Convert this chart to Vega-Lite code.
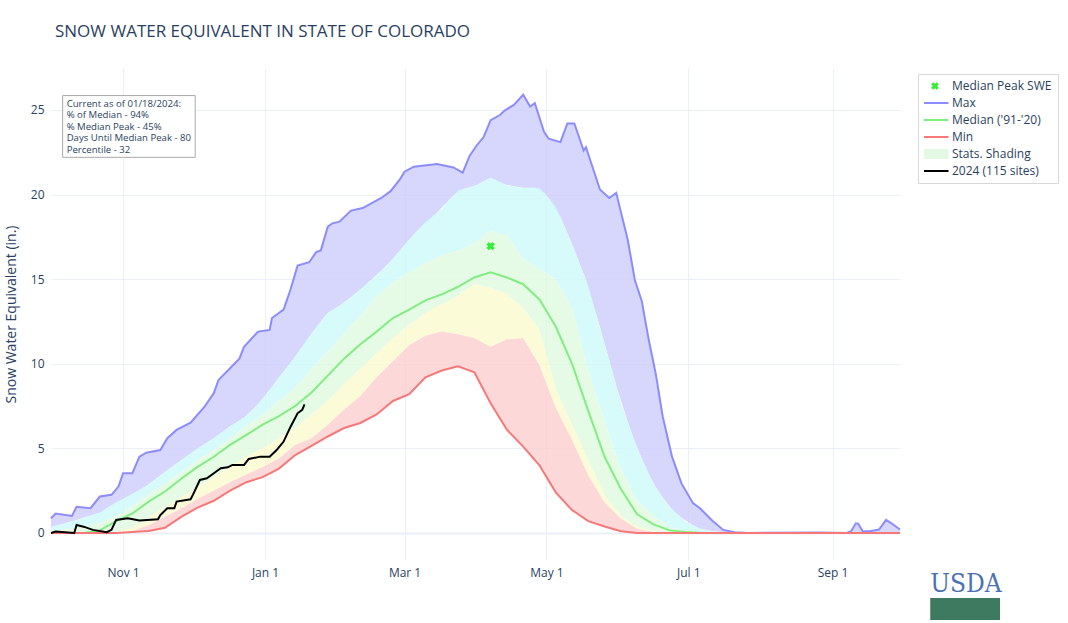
{
  "$schema": "https://vega.github.io/schema/vega-lite/v6.json",
  "autosize": {"type": "none"},
  "width": 849,
  "height": 492,
  "padding": {"left": 51, "top": 68, "right": 168, "bottom": 63},
  "background": "white",
  "title": {"text": "SNOW WATER EQUIVALENT IN STATE OF COLORADO", "anchor": "start", "frame": "group", "offset": 14, "baseline": "alphabetic", "fontSize": 17, "fontWeight": "normal", "color": "#2a3f5f", "font": "Open Sans", "dx": 4},
  "config": {
    "font": "Open Sans",
    "view": {"stroke": null},
    "axis": {"labelFont": "Open Sans", "labelFontSize": 12, "labelColor": "#2a3f5f", "domain": false, "ticks": false, "gridColor": "#ebf0f8", "titleFont": "Open Sans", "titleFontSize": 14, "titleColor": "#2a3f5f", "titleFontWeight": "normal"},
    "legend": {"symbolSize": 729}
  },
  "datasets": {
    "maxs": [
      {"date": "2023-10-01", "swe": 0.87, "p90": 0.35}, {"date": "2023-10-03", "swe": 1.15, "p90": 0.42}, {"date": "2023-10-10", "swe": 1.0, "p90": 0.69}, {"date": "2023-10-12", "swe": 1.55, "p90": 0.77},
      {"date": "2023-10-18", "swe": 1.46, "p90": 1.03}, {"date": "2023-10-22", "swe": 2.15, "p90": 1.2}, {"date": "2023-10-27", "swe": 2.25, "p90": 1.63}, {"date": "2023-10-30", "swe": 2.74, "p90": 1.87},
      {"date": "2023-11-01", "swe": 3.53, "p90": 2.01}, {"date": "2023-11-05", "swe": 3.53, "p90": 2.3}, {"date": "2023-11-08", "swe": 4.51, "p90": 2.54}, {"date": "2023-11-11", "swe": 4.74, "p90": 2.77},
      {"date": "2023-11-17", "swe": 4.9, "p90": 3.39}, {"date": "2023-11-20", "swe": 5.6, "p90": 3.7}, {"date": "2023-11-24", "swe": 6.09, "p90": 4.1}, {"date": "2023-11-30", "swe": 6.52, "p90": 4.7},
      {"date": "2023-12-06", "swe": 7.46, "p90": 5.26}, {"date": "2023-12-10", "swe": 8.26, "p90": 5.6}, {"date": "2023-12-12", "swe": 9.04, "p90": 5.8}, {"date": "2023-12-17", "swe": 9.73, "p90": 6.3},
      {"date": "2023-12-21", "swe": 10.3, "p90": 6.64}, {"date": "2023-12-23", "swe": 11.0, "p90": 6.81}, {"date": "2023-12-29", "swe": 11.9, "p90": 7.61}, {"date": "2024-01-03", "swe": 12.0, "p90": 8.46},
      {"date": "2024-01-04", "swe": 12.7, "p90": 8.64}, {"date": "2024-01-09", "swe": 13.2, "p90": 9.54}, {"date": "2024-01-12", "swe": 14.4, "p90": 10.06}, {"date": "2024-01-15", "swe": 15.8, "p90": 10.6},
      {"date": "2024-01-20", "swe": 16.0, "p90": 11.6}, {"date": "2024-01-23", "swe": 16.6, "p90": 12.14}, {"date": "2024-01-25", "swe": 16.7, "p90": 12.49}, {"date": "2024-01-28", "swe": 18.1, "p90": 13.0},
      {"date": "2024-01-30", "swe": 18.3, "p90": 13.17}, {"date": "2024-02-02", "swe": 18.4, "p90": 13.43}, {"date": "2024-02-07", "swe": 19.05, "p90": 13.94}, {"date": "2024-02-12", "swe": 19.2, "p90": 14.51},
      {"date": "2024-02-20", "swe": 19.8, "p90": 15.49}, {"date": "2024-02-24", "swe": 20.2, "p90": 16.06}, {"date": "2024-02-28", "swe": 20.9, "p90": 16.69}, {"date": "2024-03-01", "swe": 21.35, "p90": 17.02},
      {"date": "2024-03-05", "swe": 21.65, "p90": 17.65}, {"date": "2024-03-15", "swe": 21.8, "p90": 18.94}, {"date": "2024-03-22", "swe": 21.6, "p90": 19.94}, {"date": "2024-03-26", "swe": 21.3, "p90": 20.33},
      {"date": "2024-03-29", "swe": 22.3, "p90": 20.43}, {"date": "2024-04-01", "swe": 22.9, "p90": 20.57}, {"date": "2024-04-04", "swe": 23.4, "p90": 20.79}, {"date": "2024-04-07", "swe": 24.4, "p90": 21.0},
      {"date": "2024-04-11", "swe": 24.7, "p90": 20.74}, {"date": "2024-04-13", "swe": 24.96, "p90": 20.61}, {"date": "2024-04-17", "swe": 25.3, "p90": 20.49}, {"date": "2024-04-21", "swe": 25.9, "p90": 20.4},
      {"date": "2024-04-24", "swe": 25.2, "p90": 20.4}, {"date": "2024-04-26", "swe": 25.4, "p90": 20.4}, {"date": "2024-04-30", "swe": 23.7, "p90": 20.09}, {"date": "2024-05-02", "swe": 23.3, "p90": 19.77},
      {"date": "2024-05-07", "swe": 23.1, "p90": 18.67}, {"date": "2024-05-10", "swe": 24.2, "p90": 17.73}, {"date": "2024-05-13", "swe": 24.2, "p90": 16.74}, {"date": "2024-05-17", "swe": 22.6, "p90": 15.31},
      {"date": "2024-05-18", "swe": 22.8, "p90": 14.96}, {"date": "2024-05-24", "swe": 20.3, "p90": 12.17}, {"date": "2024-05-28", "swe": 19.8, "p90": 10.2}, {"date": "2024-05-31", "swe": 20.1, "p90": 8.7},
      {"date": "2024-06-05", "swe": 17.3, "p90": 6.54}, {"date": "2024-06-08", "swe": 14.95, "p90": 5.39}, {"date": "2024-06-11", "swe": 13.7, "p90": 4.4}, {"date": "2024-06-14", "swe": 11.4, "p90": 3.5},
      {"date": "2024-06-17", "swe": 9.4, "p90": 2.7}, {"date": "2024-06-20", "swe": 6.87, "p90": 2.1}, {"date": "2024-06-24", "swe": 4.51, "p90": 1.38}, {"date": "2024-06-28", "swe": 2.94, "p90": 0.89},
      {"date": "2024-07-03", "swe": 1.76, "p90": 0.46}, {"date": "2024-07-06", "swe": 1.46, "p90": 0.26}, {"date": "2024-07-11", "swe": 0.77, "p90": 0.11}, {"date": "2024-07-16", "swe": 0.18, "p90": 0.04},
      {"date": "2024-07-21", "swe": 0.04, "p90": 0}, {"date": "2024-07-27", "swe": 0, "p90": 0}, {"date": "2024-08-26", "swe": 0.03, "p90": 0}, {"date": "2024-09-07", "swe": 0, "p90": 0},
      {"date": "2024-09-09", "swe": 0.1, "p90": 0}, {"date": "2024-09-11", "swe": 0.57, "p90": 0}, {"date": "2024-09-12", "swe": 0.55, "p90": 0}, {"date": "2024-09-14", "swe": 0.1, "p90": 0},
      {"date": "2024-09-17", "swe": 0.1, "p90": 0}, {"date": "2024-09-21", "swe": 0.2, "p90": 0}, {"date": "2024-09-24", "swe": 0.77, "p90": 0}, {"date": "2024-09-26", "swe": 0.6, "p90": 0},
      {"date": "2024-09-30", "swe": 0.2, "p90": 0}
    ],
    "bands": [
      {"date": "2023-10-01", "p90": 0.35, "p70": 0.1, "p50": 0, "p30": 0, "p10": 0, "mn": 0},
      {"date": "2023-10-08", "p90": 0.6, "p70": 0.25, "p50": 0, "p30": 0, "p10": 0, "mn": 0},
      {"date": "2023-10-15", "p90": 0.9, "p70": 0.4, "p50": 0, "p30": 0, "p10": 0, "mn": 0},
      {"date": "2023-10-22", "p90": 1.2, "p70": 0.6, "p50": 0.15, "p30": 0, "p10": 0, "mn": 0},
      {"date": "2023-10-29", "p90": 1.8, "p70": 1.0, "p50": 0.7, "p30": 0.05, "p10": 0, "mn": 0},
      {"date": "2023-11-05", "p90": 2.3, "p70": 1.6, "p50": 1.15, "p30": 0.3, "p10": 0.1, "mn": 0.05},
      {"date": "2023-11-12", "p90": 2.85, "p70": 2.3, "p50": 1.85, "p30": 0.9, "p10": 0.45, "mn": 0.12},
      {"date": "2023-11-19", "p90": 3.6, "p70": 2.9, "p50": 2.45, "p30": 1.5, "p10": 0.95, "mn": 0.3},
      {"date": "2023-11-26", "p90": 4.3, "p70": 3.6, "p50": 3.2, "p30": 2.1, "p10": 1.45, "mn": 0.95},
      {"date": "2023-12-03", "p90": 5.0, "p70": 4.3, "p50": 3.9, "p30": 2.7, "p10": 2.0, "mn": 1.5},
      {"date": "2023-12-10", "p90": 5.6, "p70": 4.9, "p50": 4.5, "p30": 3.3, "p10": 2.5, "mn": 1.9},
      {"date": "2023-12-17", "p90": 6.3, "p70": 5.6, "p50": 5.2, "p30": 3.9, "p10": 3.0, "mn": 2.5},
      {"date": "2023-12-24", "p90": 6.9, "p70": 6.3, "p50": 5.8, "p30": 4.5, "p10": 3.45, "mn": 3.0},
      {"date": "2023-12-31", "p90": 7.9, "p70": 7.0, "p50": 6.4, "p30": 5.0, "p10": 3.9, "mn": 3.3},
      {"date": "2024-01-07", "p90": 9.2, "p70": 7.8, "p50": 6.9, "p30": 5.6, "p10": 4.4, "mn": 3.8},
      {"date": "2024-01-14", "p90": 10.4, "p70": 8.6, "p50": 7.5, "p30": 6.2, "p10": 5.2, "mn": 4.6},
      {"date": "2024-01-21", "p90": 11.8, "p70": 9.7, "p50": 8.3, "p30": 7.0, "p10": 5.6, "mn": 5.15},
      {"date": "2024-01-28", "p90": 13.0, "p70": 10.7, "p50": 9.3, "p30": 7.8, "p10": 6.4, "mn": 5.7},
      {"date": "2024-02-04", "p90": 13.6, "p70": 11.8, "p50": 10.3, "p30": 8.8, "p10": 7.3, "mn": 6.2},
      {"date": "2024-02-11", "p90": 14.4, "p70": 12.8, "p50": 11.15, "p30": 9.7, "p10": 8.1, "mn": 6.5},
      {"date": "2024-02-18", "p90": 15.2, "p70": 14.0, "p50": 11.9, "p30": 10.6, "p10": 9.2, "mn": 7.0},
      {"date": "2024-02-25", "p90": 16.2, "p70": 14.8, "p50": 12.7, "p30": 11.5, "p10": 10.15, "mn": 7.8},
      {"date": "2024-03-03", "p90": 17.35, "p70": 15.4, "p50": 13.2, "p30": 12.3, "p10": 11.1, "mn": 8.2},
      {"date": "2024-03-10", "p90": 18.4, "p70": 15.95, "p50": 13.75, "p30": 13.0, "p10": 11.65, "mn": 9.2},
      {"date": "2024-03-17", "p90": 19.15, "p70": 16.4, "p50": 14.1, "p30": 13.5, "p10": 11.9, "mn": 9.6},
      {"date": "2024-03-24", "p90": 20.26, "p70": 16.7, "p50": 14.55, "p30": 14.0, "p10": 11.75, "mn": 9.85},
      {"date": "2024-03-31", "p90": 20.5, "p70": 17.1, "p50": 15.1, "p30": 14.7, "p10": 11.5, "mn": 9.5},
      {"date": "2024-04-07", "p90": 21.0, "p70": 17.85, "p50": 15.4, "p30": 14.5, "p10": 11.0, "mn": 7.66},
      {"date": "2024-04-14", "p90": 20.55, "p70": 17.6, "p50": 15.1, "p30": 14.1, "p10": 11.45, "mn": 6.1},
      {"date": "2024-04-21", "p90": 20.4, "p70": 16.2, "p50": 14.7, "p30": 13.3, "p10": 11.5, "mn": 5.1},
      {"date": "2024-04-28", "p90": 20.4, "p70": 15.6, "p50": 13.8, "p30": 12.0, "p10": 9.9, "mn": 4.0},
      {"date": "2024-05-05", "p90": 19.3, "p70": 15.0, "p50": 12.2, "p30": 8.5, "p10": 7.4, "mn": 2.4},
      {"date": "2024-05-12", "p90": 17.1, "p70": 13.3, "p50": 10.0, "p30": 6.4, "p10": 5.5, "mn": 1.35},
      {"date": "2024-05-19", "p90": 14.6, "p70": 9.6, "p50": 7.2, "p30": 4.3, "p10": 3.4, "mn": 0.7},
      {"date": "2024-05-26", "p90": 11.2, "p70": 6.6, "p50": 4.5, "p30": 2.2, "p10": 1.8, "mn": 0.38},
      {"date": "2024-06-02", "p90": 7.7, "p70": 3.8, "p50": 2.6, "p30": 1.0, "p10": 0.85, "mn": 0.1},
      {"date": "2024-06-09", "p90": 5.0, "p70": 1.9, "p50": 1.1, "p30": 0.35, "p10": 0.25, "mn": 0},
      {"date": "2024-06-16", "p90": 2.9, "p70": 1.0, "p50": 0.5, "p30": 0.1, "p10": 0.05, "mn": 0},
      {"date": "2024-06-23", "p90": 1.5, "p70": 0.35, "p50": 0.15, "p30": 0, "p10": 0, "mn": 0},
      {"date": "2024-06-30", "p90": 0.65, "p70": 0.1, "p50": 0.05, "p30": 0, "p10": 0, "mn": 0},
      {"date": "2024-07-07", "p90": 0.2, "p70": 0, "p50": 0, "p30": 0, "p10": 0, "mn": 0},
      {"date": "2024-07-14", "p90": 0.05, "p70": 0, "p50": 0, "p30": 0, "p10": 0, "mn": 0},
      {"date": "2024-07-21", "p90": 0, "p70": 0, "p50": 0, "p30": 0, "p10": 0, "mn": 0},
      {"date": "2024-09-30", "p90": 0, "p70": 0, "p50": 0, "p30": 0, "p10": 0, "mn": 0}
    ],
    "current": [
      {"date": "2023-10-01", "swe": 0.0}, {"date": "2023-10-03", "swe": 0.08}, {"date": "2023-10-11", "swe": 0.0}, {"date": "2023-10-12", "swe": 0.47},
      {"date": "2023-10-15", "swe": 0.37}, {"date": "2023-10-19", "swe": 0.18}, {"date": "2023-10-25", "swe": 0.04}, {"date": "2023-10-27", "swe": 0.18},
      {"date": "2023-10-29", "swe": 0.77}, {"date": "2023-11-03", "swe": 0.87}, {"date": "2023-11-08", "swe": 0.73}, {"date": "2023-11-16", "swe": 0.81},
      {"date": "2023-11-17", "swe": 1.06}, {"date": "2023-11-20", "swe": 1.46}, {"date": "2023-11-23", "swe": 1.46}, {"date": "2023-11-24", "swe": 1.85},
      {"date": "2023-11-30", "swe": 1.99}, {"date": "2023-12-01", "swe": 2.25}, {"date": "2023-12-04", "swe": 3.13}, {"date": "2023-12-07", "swe": 3.23},
      {"date": "2023-12-10", "swe": 3.53}, {"date": "2023-12-13", "swe": 3.82}, {"date": "2023-12-16", "swe": 3.88}, {"date": "2023-12-18", "swe": 4.02},
      {"date": "2023-12-23", "swe": 4.02}, {"date": "2023-12-25", "swe": 4.37}, {"date": "2023-12-30", "swe": 4.51}, {"date": "2024-01-03", "swe": 4.51},
      {"date": "2024-01-06", "swe": 4.9}, {"date": "2024-01-09", "swe": 5.4}, {"date": "2024-01-12", "swe": 6.28}, {"date": "2024-01-15", "swe": 7.07},
      {"date": "2024-01-17", "swe": 7.27}, {"date": "2024-01-18", "swe": 7.6}
    ],
    "peak": [{"date": "2024-04-07", "swe": 16.95}],
    "note": [{"date": "2023-10-06", "date2": "2023-12-02", "top": 25.85, "bottom": 22.2, "label": "Current as of 01/18/2024:\n% of Median - 94%\n% Median Peak - 45%\nDays Until Median Peak - 80\nPercentile - 32"}],
    "logo": [{"start": "2024-10-13", "date2": "2024-11-12", "swe": -3.5, "top": -3.85, "bottom": -5.15, "label": "USDA"}]
  },
  "encoding": {
    "x": {
      "field": "date", "type": "temporal", "title": null,
      "scale": {"type": "utc", "domain": [{"year": 2023, "month": 10, "date": 1, "utc": true}, {"year": 2024, "month": 9, "date": 30, "utc": true}]},
      "axis": {
        "title": null, "grid": true, "labelPadding": 7, "format": "%b %e",
        "values": [
          {"year": 2023, "month": 11, "date": 1, "utc": true}, {"year": 2024, "month": 1, "date": 1, "utc": true},
          {"year": 2024, "month": 3, "date": 1, "utc": true}, {"year": 2024, "month": 5, "date": 1, "utc": true},
          {"year": 2024, "month": 7, "date": 1, "utc": true}, {"year": 2024, "month": 9, "date": 1, "utc": true}
        ]
      }
    }
  },
  "layer": [
    {
      "data": {"name": "maxs"},
      "mark": {"type": "area", "color": "#cdccfb", "opacity": 0.8},
      "encoding": {
        "y": {"field": "swe", "type": "quantitative", "stack": null, "title": "Snow Water Equivalent (in.)",
          "scale": {"domain": [-1.6, 27.48], "nice": false, "zero": false},
          "axis": {"title": "Snow Water Equivalent (in.)", "values": [0, 5, 10, 15, 20, 25], "grid": true, "labelPadding": 7, "titlePadding": 12,
            "gridWidth": {"condition": {"test": "datum.value === 0", "value": 2}, "value": 1}}},
        "y2": {"field": "p90"}
      }
    },
    {"data": {"name": "bands"}, "mark": {"type": "area", "color": "#ccfaf9", "opacity": 0.8}, "encoding": {"y": {"field": "p90", "type": "quantitative", "stack": null, "title": "Snow Water Equivalent (in.)"}, "y2": {"field": "p70"}}},
    {"data": {"name": "bands"}, "mark": {"type": "area", "color": "#e0fae0", "opacity": 0.8}, "encoding": {"y": {"field": "p70", "type": "quantitative", "stack": null, "title": "Snow Water Equivalent (in.)"}, "y2": {"field": "p30"}}},
    {"data": {"name": "bands"}, "mark": {"type": "area", "color": "#faface", "opacity": 0.8}, "encoding": {"y": {"field": "p30", "type": "quantitative", "stack": null, "title": "Snow Water Equivalent (in.)"}, "y2": {"field": "p10"}}},
    {"data": {"name": "bands"}, "mark": {"type": "area", "color": "#fccece", "opacity": 0.8}, "encoding": {"y": {"field": "p10", "type": "quantitative", "stack": null, "title": "Snow Water Equivalent (in.)"}, "y2": {"field": "mn"}}},
    {
      "data": {"name": "maxs"},
      "mark": {"type": "line", "strokeWidth": 2},
      "encoding": {
        "y": {"field": "swe", "type": "quantitative", "title": "Snow Water Equivalent (in.)"},
        "color": {
          "datum": "Max", "type": "nominal",
          "scale": {"domain": ["Median Peak SWE", "Max", "Median ('91-'20)", "Min", "Stats. Shading", "2024 (115 sites)"],
                    "range": ["#33ee33", "#8c8cff", "#80ee80", "#f67878", "#e3f9e3", "#000000"]},
          "legend": {
            "title": null, "orient": "none", "legendX": 867, "legendY": 6,
            "labelFont": "Open Sans", "labelFontSize": 12, "labelColor": "#2a3f5f", "labelOffset": 11, "symbolOffset": 5,
            "strokeColor": "#d9d9d9", "fillColor": "#ffffff", "padding": 6, "rowPadding": 5, "clipHeight": 12,
            "symbolType": "stroke", "symbolSize": 729, "symbolStrokeWidth": 2,
            "encode": {"symbols": {"update": {
              "shape": {"signal": "datum.value === 'Median Peak SWE' ? 'cross' : 'stroke'"},
              "angle": {"signal": "datum.value === 'Median Peak SWE' ? 45 : 0"},
              "size": {"signal": "datum.value === 'Median Peak SWE' ? 60 : 729"},
              "strokeWidth": {"signal": "datum.value === 'Median Peak SWE' ? 0 : (datum.value === 'Stats. Shading' ? 10 : 2)"},
              "fill": {"signal": "datum.value === 'Median Peak SWE' ? '#33ee33' : 'transparent'"},
              "opacity": {"value": 1}
            }}}
          }
        }
      }
    },
    {"data": {"name": "bands"}, "mark": {"type": "line", "strokeWidth": 2}, "encoding": {"y": {"field": "p50", "type": "quantitative", "title": "Snow Water Equivalent (in.)"}, "color": {"datum": "Median ('91-'20)", "type": "nominal"}}},
    {"data": {"name": "bands"}, "mark": {"type": "line", "strokeWidth": 2}, "encoding": {"y": {"field": "mn", "type": "quantitative", "title": "Snow Water Equivalent (in.)"}, "color": {"datum": "Min", "type": "nominal"}}},
    {"data": {"name": "current"}, "mark": {"type": "line", "strokeWidth": 2}, "encoding": {"y": {"field": "swe", "type": "quantitative", "title": "Snow Water Equivalent (in.)"}, "color": {"datum": "2024 (115 sites)", "type": "nominal"}}},
    {"data": {"name": "peak"}, "mark": {"type": "point", "shape": "cross", "angle": 45, "filled": true, "size": 70, "opacity": 1}, "encoding": {"y": {"field": "swe", "type": "quantitative", "title": "Snow Water Equivalent (in.)"}, "color": {"datum": "Median Peak SWE", "type": "nominal"}}},
    {"data": {"name": "note"}, "mark": {"type": "rect", "fill": "#ffffff", "stroke": "#aaaaaa", "strokeWidth": 1}, "encoding": {"x2": {"field": "date2"}, "y": {"field": "top", "type": "quantitative", "title": "Snow Water Equivalent (in.)"}, "y2": {"field": "bottom"}}},
    {"data": {"name": "note"}, "mark": {"type": "text", "align": "left", "baseline": "top", "lineBreak": "\n", "fontSize": 9.6, "lineHeight": 11.6, "color": "#2a3f5f", "font": "Open Sans", "dx": 4, "dy": 3}, "encoding": {"y": {"field": "top", "type": "quantitative", "title": "Snow Water Equivalent (in.)"}, "text": {"field": "label"}}},
    {"data": {"name": "logo"}, "mark": {"type": "rect", "fill": "#3d7a5f"}, "encoding": {"x": {"field": "start", "type": "temporal", "title": null}, "x2": {"field": "date2"}, "y": {"field": "top", "type": "quantitative", "title": "Snow Water Equivalent (in.)"}, "y2": {"field": "bottom"}}},
    {"data": {"name": "logo"}, "mark": {"type": "text", "align": "left", "baseline": "alphabetic", "fontSize": 26, "font": "DejaVu Serif Condensed", "color": "#4a72b0"}, "encoding": {"x": {"field": "start", "type": "temporal", "title": null}, "y": {"field": "swe", "type": "quantitative", "title": "Snow Water Equivalent (in.)"}, "text": {"field": "label"}}}
  ]
}
